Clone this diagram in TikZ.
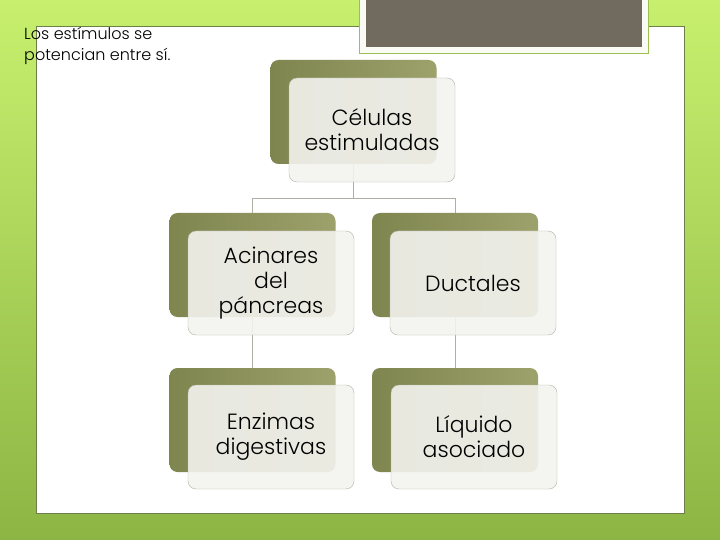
\documentclass[tikz,border=0pt]{standalone}
\usepackage{fontspec}
\setmainfont{Poppins}[UprightFont=* Light]
\definecolor{bgtop}{HTML}{C8F06E}
\definecolor{bgbot}{HTML}{8CB544}
\definecolor{framecol}{HTML}{6F7D4C}
\definecolor{titlegrey}{HTML}{716A5E}
\definecolor{titleedge}{HTML}{9BBF50}
\definecolor{oliveL}{HTML}{7F854F}
\definecolor{oliveR}{HTML}{9DA16B}
\definecolor{cardedge}{HTML}{B5B5A8}
\definecolor{cardfill}{HTML}{F3F3EF}
\definecolor{linkcol}{HTML}{AEAEA4}
\begin{document}
\begin{tikzpicture}[x=1pt,y=-1pt,
    backbox/.style={rounded corners=8pt,minimum width=166pt,minimum height=104pt,
      left color=oliveL,right color=oliveR},
    frontbox/.style={draw=cardedge,rounded corners=8pt,minimum width=166pt,minimum height=104pt,
      fill=cardfill,fill opacity=.9,text opacity=1,align=center,
      font=\fontsize{22}{25}\selectfont},
    link/.style={draw=linkcol,line width=.8pt}]
  \useasboundingbox (0,0) rectangle (720,540);
  \shade[top color=bgtop,bottom color=bgbot] (0,0) rectangle (720,540);
  \draw[framecol,fill=white] (36,26) rectangle (684,513);
  \draw[titleedge,fill=white!94!titleedge] (359,-2) rectangle (648,53);
  \fill[titlegrey] (366,-2) rectangle (642,47);
  \node[anchor=north west,align=left,inner sep=0pt,
    font=\fontsize{16}{21}\selectfont] (note) at (24,27)
    {Los estímulos se\\potencian entre sí.};
  % back cards
  \node[backbox] (celB) at (353.5,112) {};
  \node[backbox] (acinB) at (252.5,265) {};
  \node[backbox] (ductB) at (455,265) {};
  \node[backbox] (enzB) at (252.5,420) {};
  \node[backbox] (liqB) at (455,420) {};
  % links
  \begin{scope}[link]
    \draw (celB.south) -- ++(0,34) -| (acinB);
    \draw (celB.south) -- ++(0,34) -| (ductB);
    \draw (acinB) to (enzB);
    \draw (ductB) to (liqB);
  \end{scope}
  % front cards
  \node[frontbox] (cel) at (372,130) {Células\\estimuladas};
  \node[frontbox] (acin) at (271,283) {Acinares\\del\\páncreas};
  \node[frontbox] (duct) at (473,283) {Ductales};
  \node[frontbox] (enz) at (271,437) {Enzimas\\digestivas};
  \node[frontbox] (liq) at (474,437) {Líquido\\asociado};
\end{tikzpicture}
\end{document}
